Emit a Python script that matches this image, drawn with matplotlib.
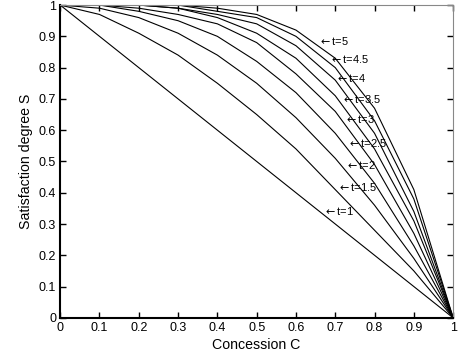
import numpy as np
import matplotlib
matplotlib.use("Agg")
from matplotlib import pyplot as plt

plt.rcParams['font.family'] = ['Liberation Sans', 'DejaVu Sans']

# concession values
c = [0, 0.1, 0.2, 0.3, 0.4, 0.5, 0.6, 0.7, 0.8, 0.9, 1.0]

# satisfaction degree per exponent t
t_values = [1, 1.5, 2, 2.5, 3, 3.5, 4, 4.5, 5]
s_curves = [
    [1, 0.90, 0.80, 0.70, 0.60, 0.50, 0.40, 0.30, 0.20, 0.10, 0],
    [1, 0.97, 0.91, 0.84, 0.75, 0.65, 0.54, 0.41, 0.28, 0.15, 0],
    [1, 0.99, 0.96, 0.91, 0.84, 0.75, 0.64, 0.51, 0.36, 0.19, 0],
    [1, 1.00, 0.98, 0.95, 0.90, 0.82, 0.72, 0.59, 0.43, 0.23, 0],
    [1, 1.00, 0.99, 0.97, 0.94, 0.88, 0.78, 0.66, 0.49, 0.27, 0],
    [1, 1.00, 1.00, 0.99, 0.96, 0.91, 0.83, 0.71, 0.54, 0.31, 0],
    [1, 1.00, 1.00, 0.99, 0.97, 0.94, 0.87, 0.76, 0.59, 0.34, 0],
    [1, 1.00, 1.00, 1.00, 0.98, 0.96, 0.90, 0.80, 0.63, 0.38, 0],
    [1, 1.00, 1.00, 1.00, 0.99, 0.97, 0.92, 0.83, 0.67, 0.41, 0],
]

# label anchor points (left end of the arrow)
label_x = [0.669, 0.705, 0.725, 0.730, 0.723, 0.715, 0.700, 0.685, 0.656]
label_y = [0.342, 0.419, 0.489, 0.559, 0.636, 0.700, 0.767, 0.827, 0.886]

px = 1 / 100
fig = plt.figure(figsize=(474 * px, 362 * px), dpi=100)
ax = fig.add_axes([0.127, 0.122, 0.829, 0.864])

for s in s_curves:
    ax.plot(c, s, color='black', lw=0.8)

for t, lx, ly in zip(t_values, label_x, label_y):
    ax.text(lx, ly, r'$\leftarrow$' + f't={t:g}', fontsize=8, ha='left', va='center')

ticks = np.round(np.arange(0, 1.01, 0.1), 1)
tick_labels = ['0', '0.1', '0.2', '0.3', '0.4', '0.5', '0.6', '0.7', '0.8', '0.9', '1']
ax.set_xlim(0, 1)
ax.set_ylim(0, 1)
ax.set_xticks(ticks)
ax.set_yticks(ticks)
ax.set_xticklabels(tick_labels)
ax.set_yticklabels(tick_labels)
ax.tick_params(direction='in', top=True, right=True, length=4, width=1,
               labelsize=9, pad=3)
ax.set_xlabel('Concession C', fontsize=10.2, labelpad=3)
ax.set_ylabel('Satisfaction degree S', fontsize=10.2, labelpad=4)

ax.spines['left'].set_linewidth(1.5)
ax.spines['bottom'].set_linewidth(1.5)
ax.spines['top'].set_color('#888888')
ax.spines['right'].set_color('#888888')

fig.savefig('out.png', dpi=100)
